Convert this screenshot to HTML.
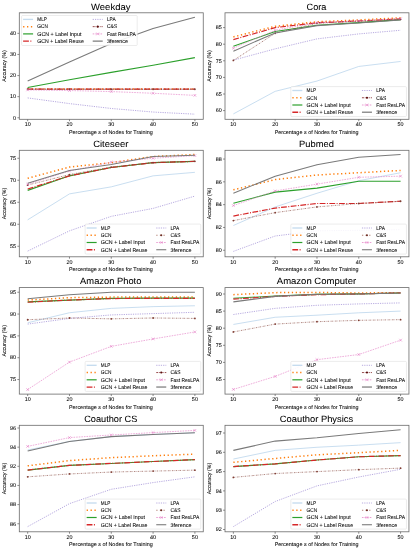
<!DOCTYPE html>
<html><head><meta charset="utf-8"><style>
html,body{margin:0;padding:0;background:#fff;}
svg{display:block;will-change:transform;}
text{text-rendering:geometricPrecision;font-family:"Liberation Sans",sans-serif;fill:#000;stroke:#000;stroke-width:0.06px;}
</style></head><body>
<svg width="412" height="550" viewBox="0 0 412 550">
<rect width="412" height="550" fill="#fff"/>
<clipPath id="c00"><rect x="19.3" y="12.8" width="183.95" height="106.5"/></clipPath>
<g clip-path="url(#c00)">
<path d="M27.66 89.27 L69.47 89.27 L111.27 89.27 L153.08 89.27 L194.89 89.27" stroke="#c6dcef" stroke-width="0.95" fill="none" stroke-linecap="butt" stroke-linejoin="round"/>
<path d="M27.66 88.95 L69.47 88.95 L111.27 88.95 L153.08 88.95 L194.89 88.95" stroke="#ff7f0e" stroke-width="1.5" fill="none" stroke-dasharray="1.3 2.6" stroke-linecap="butt" stroke-linejoin="round"/>
<path d="M27.66 87.58 L69.47 79.77 L111.27 72.39 L153.08 65.21 L194.89 57.62" stroke="#2ca02c" stroke-width="1.1" fill="none" stroke-linecap="butt" stroke-linejoin="round"/>
<path d="M27.66 89.05 L69.47 89.05 L111.27 89.05 L153.08 89.05 L194.89 89.05" stroke="#d62728" stroke-width="1.2" fill="none" stroke-dasharray="5.8 1.45 1.0 1.45" stroke-linecap="butt" stroke-linejoin="round"/>
<path d="M27.66 97.92 L69.47 103.61 L111.27 108.47 L153.08 112.05 L194.89 114.16" stroke="#9a86d2" stroke-width="0.7" fill="none" stroke-dasharray="1.2 1.1" stroke-linecap="butt" stroke-linejoin="round"/>
<path d="M27.66 89.27 L69.47 89.27 L111.27 89.27 L153.08 89.27 L194.89 89.27" stroke="#7f3c32" stroke-width="0.6" fill="none" stroke-dasharray="1.5 0.9 0.5 0.9" stroke-linecap="butt" stroke-linejoin="round"/>
<circle cx="27.66" cy="89.27" r="0.9" fill="#7f3c32"/>
<circle cx="69.47" cy="89.27" r="0.9" fill="#7f3c32"/>
<circle cx="111.27" cy="89.27" r="0.9" fill="#7f3c32"/>
<circle cx="153.08" cy="89.27" r="0.9" fill="#7f3c32"/>
<circle cx="194.89" cy="89.27" r="0.9" fill="#7f3c32"/>
<path d="M27.66 89.9 L69.47 90.53 L111.27 91.59 L153.08 93.27 L194.89 95.38" stroke="#e377c2" stroke-width="0.6" fill="none" stroke-dasharray="1.6 1.0" stroke-linecap="butt" stroke-linejoin="round"/>
<path d="M26.31 88.55L29.01 91.25M26.31 91.25L29.01 88.55" stroke="#e377c2" stroke-width="0.55" fill="none"/>
<path d="M68.12 89.18L70.82 91.88M68.12 91.88L70.82 89.18" stroke="#e377c2" stroke-width="0.55" fill="none"/>
<path d="M109.92 90.24L112.62 92.94M109.92 92.94L112.62 90.24" stroke="#e377c2" stroke-width="0.55" fill="none"/>
<path d="M151.73 91.92L154.43 94.62M151.73 94.62L154.43 91.92" stroke="#e377c2" stroke-width="0.55" fill="none"/>
<path d="M193.54 94.03L196.24 96.73M193.54 96.73L196.24 94.03" stroke="#e377c2" stroke-width="0.55" fill="none"/>
<path d="M27.66 81.04 L69.47 62.05 L111.27 43.48 L153.08 28.5 L194.89 17.31" stroke="#7a7a7a" stroke-width="1.05" fill="none" stroke-linecap="butt" stroke-linejoin="round"/>
</g>
<rect x="21.6" y="15.5" width="115.6" height="30.0" rx="1" fill="#fff" fill-opacity="0.88" stroke="#d8d8d8" stroke-width="0.5"/>
<path d="M23.1 19.4 L33.1 19.4" stroke="#c6dcef" stroke-width="1.35" fill="none" stroke-linecap="butt" stroke-linejoin="round"/>
<text x="37.3" y="21.15" font-size="5.5" textLength="9.61" lengthAdjust="spacingAndGlyphs">MLP</text>
<path d="M23.1 26.65 L33.1 26.65" stroke="#ff7f0e" stroke-width="1.5" fill="none" stroke-dasharray="1.3 2.6" stroke-linecap="butt" stroke-linejoin="round"/>
<text x="37.3" y="28.4" font-size="5.5" textLength="10.55" lengthAdjust="spacingAndGlyphs">GCN</text>
<path d="M23.1 33.9 L33.1 33.9" stroke="#2ca02c" stroke-width="1.2" fill="none" stroke-linecap="butt" stroke-linejoin="round"/>
<text x="37.3" y="35.65" font-size="5.5" textLength="44.18" lengthAdjust="spacingAndGlyphs">GCN + Label Input</text>
<path d="M23.1 41.15 L32.6 41.15" stroke="#d62728" stroke-width="1.3" fill="none" stroke-dasharray="5.8 1.45 1.0 1.45" stroke-linecap="butt" stroke-linejoin="round"/>
<text x="37.3" y="42.9" font-size="5.5" textLength="46.51" lengthAdjust="spacingAndGlyphs">GCN + Label Reuse</text>
<path d="M92.7 19.4 L102.7 19.4" stroke="#9a86d2" stroke-width="0.7" fill="none" stroke-dasharray="1.2 1.1" stroke-linecap="butt" stroke-linejoin="round"/>
<text x="106.9" y="21.15" font-size="5.5" textLength="8.76" lengthAdjust="spacingAndGlyphs">LPA</text>
<path d="M92.7 26.65 L102.7 26.65" stroke="#7e2020" stroke-width="0.8" fill="none" stroke-dasharray="2.0 0.8 0.8 0.8" stroke-linecap="butt" stroke-linejoin="round"/>
<circle cx="97.7" cy="26.65" r="1.05" fill="#5a0c0c"/>
<text x="106.9" y="28.4" font-size="5.5" textLength="10.04" lengthAdjust="spacingAndGlyphs">C&amp;S</text>
<path d="M92.7 33.9 L102.7 33.9" stroke="#e377c2" stroke-width="0.7" fill="none" stroke-dasharray="1.6 1.0" stroke-linecap="butt" stroke-linejoin="round"/>
<path d="M96.35 32.55L99.05 35.25M96.35 35.25L99.05 32.55" stroke="#e377c2" stroke-width="0.55" fill="none"/>
<text x="106.9" y="35.65" font-size="5.5" textLength="28.95" lengthAdjust="spacingAndGlyphs">Fast ResLPA</text>
<path d="M92.7 41.15 L102.7 41.15" stroke="#929292" stroke-width="1.5" fill="none" stroke-linecap="butt" stroke-linejoin="round"/>
<text x="106.9" y="42.9" font-size="5.5" textLength="21.03" lengthAdjust="spacingAndGlyphs">3ference</text>
<rect x="19.3" y="12.8" width="183.95" height="106.5" fill="none" stroke="#6a6a6a" stroke-width="0.8"/>
<line x1="27.66" y1="119.3" x2="27.66" y2="121.2" stroke="#6a6a6a" stroke-width="0.8"/>
<text x="27.66" y="126.15" font-size="5.5" text-anchor="middle" textLength="6.04" lengthAdjust="spacingAndGlyphs">10</text>
<line x1="69.47" y1="119.3" x2="69.47" y2="121.2" stroke="#6a6a6a" stroke-width="0.8"/>
<text x="69.47" y="126.15" font-size="5.5" text-anchor="middle" textLength="6.04" lengthAdjust="spacingAndGlyphs">20</text>
<line x1="111.27" y1="119.3" x2="111.27" y2="121.2" stroke="#6a6a6a" stroke-width="0.8"/>
<text x="111.27" y="126.15" font-size="5.5" text-anchor="middle" textLength="6.04" lengthAdjust="spacingAndGlyphs">30</text>
<line x1="153.08" y1="119.3" x2="153.08" y2="121.2" stroke="#6a6a6a" stroke-width="0.8"/>
<text x="153.08" y="126.15" font-size="5.5" text-anchor="middle" textLength="6.04" lengthAdjust="spacingAndGlyphs">40</text>
<line x1="194.89" y1="119.3" x2="194.89" y2="121.2" stroke="#6a6a6a" stroke-width="0.8"/>
<text x="194.89" y="126.15" font-size="5.5" text-anchor="middle" textLength="6.04" lengthAdjust="spacingAndGlyphs">50</text>
<line x1="17.4" y1="117.75" x2="19.3" y2="117.75" stroke="#6a6a6a" stroke-width="0.8"/>
<text x="16" y="119.5" font-size="5.5" text-anchor="end" textLength="3.02" lengthAdjust="spacingAndGlyphs">0</text>
<line x1="17.4" y1="96.65" x2="19.3" y2="96.65" stroke="#6a6a6a" stroke-width="0.8"/>
<text x="16" y="98.4" font-size="5.5" text-anchor="end" textLength="6.04" lengthAdjust="spacingAndGlyphs">10</text>
<line x1="17.4" y1="75.55" x2="19.3" y2="75.55" stroke="#6a6a6a" stroke-width="0.8"/>
<text x="16" y="77.3" font-size="5.5" text-anchor="end" textLength="6.04" lengthAdjust="spacingAndGlyphs">20</text>
<line x1="17.4" y1="54.45" x2="19.3" y2="54.45" stroke="#6a6a6a" stroke-width="0.8"/>
<text x="16" y="56.2" font-size="5.5" text-anchor="end" textLength="6.04" lengthAdjust="spacingAndGlyphs">30</text>
<line x1="17.4" y1="33.35" x2="19.3" y2="33.35" stroke="#6a6a6a" stroke-width="0.8"/>
<text x="16" y="35.1" font-size="5.5" text-anchor="end" textLength="6.04" lengthAdjust="spacingAndGlyphs">40</text>
<text x="110.87" y="133.7" font-size="5.5" text-anchor="middle" textLength="83.8" lengthAdjust="spacingAndGlyphs">Percentage <tspan font-style="italic">s</tspan> of Nodes for Training</text>
<text transform="translate(5.5 66.05) rotate(-90)" x="0" y="0" font-size="5.5" text-anchor="middle" textLength="31.5" lengthAdjust="spacingAndGlyphs">Accuracy (%)</text>
<text x="110.77" y="9.5" font-size="9.1" stroke="#000" stroke-width="0.15" text-anchor="middle" textLength="39.42" lengthAdjust="spacingAndGlyphs">Weekday</text>
<clipPath id="c10"><rect x="225" y="12.8" width="183.95" height="106.5"/></clipPath>
<g clip-path="url(#c10)">
<path d="M233.36 113.92 L275.17 91.34 L316.98 81.05 L358.78 66.44 L400.59 61.46" stroke="#c6dcef" stroke-width="0.95" fill="none" stroke-linecap="butt" stroke-linejoin="round"/>
<path d="M233.36 36.9 L275.17 26.27 L316.98 21.79 L358.78 19.96 L400.59 17.81" stroke="#ff7f0e" stroke-width="1.5" fill="none" stroke-dasharray="1.3 2.6" stroke-linecap="butt" stroke-linejoin="round"/>
<path d="M233.36 46.19 L275.17 31.58 L316.98 25.28 L358.78 22.62 L400.59 19.63" stroke="#2ca02c" stroke-width="1.1" fill="none" stroke-linecap="butt" stroke-linejoin="round"/>
<path d="M233.36 39.55 L275.17 27.6 L316.98 22.79 L358.78 20.96 L400.59 18.8" stroke="#d62728" stroke-width="1.2" fill="none" stroke-dasharray="5.8 1.45 1.0 1.45" stroke-linecap="butt" stroke-linejoin="round"/>
<path d="M233.36 60.14 L275.17 48.85 L316.98 38.89 L358.78 33.91 L400.59 30.26" stroke="#9a86d2" stroke-width="0.7" fill="none" stroke-dasharray="1.2 1.1" stroke-linecap="butt" stroke-linejoin="round"/>
<path d="M233.36 60.47 L275.17 33.24 L316.98 23.28 L358.78 21.29 L400.59 19.3" stroke="#7f3c32" stroke-width="0.6" fill="none" stroke-dasharray="1.5 0.9 0.5 0.9" stroke-linecap="butt" stroke-linejoin="round"/>
<circle cx="233.36" cy="60.47" r="0.9" fill="#7f3c32"/>
<circle cx="275.17" cy="33.24" r="0.9" fill="#7f3c32"/>
<circle cx="316.98" cy="23.28" r="0.9" fill="#7f3c32"/>
<circle cx="358.78" cy="21.29" r="0.9" fill="#7f3c32"/>
<circle cx="400.59" cy="19.3" r="0.9" fill="#7f3c32"/>
<path d="M233.36 48.18 L275.17 30.26 L316.98 22.62 L358.78 20.96 L400.59 18.64" stroke="#e377c2" stroke-width="0.6" fill="none" stroke-dasharray="1.6 1.0" stroke-linecap="butt" stroke-linejoin="round"/>
<path d="M232.01 46.83L234.71 49.53M232.01 49.53L234.71 46.83" stroke="#e377c2" stroke-width="0.55" fill="none"/>
<path d="M273.82 28.91L276.52 31.61M273.82 31.61L276.52 28.91" stroke="#e377c2" stroke-width="0.55" fill="none"/>
<path d="M315.62 21.27L318.33 23.97M315.62 23.97L318.33 21.27" stroke="#e377c2" stroke-width="0.55" fill="none"/>
<path d="M357.43 19.61L360.13 22.31M357.43 22.31L360.13 19.61" stroke="#e377c2" stroke-width="0.55" fill="none"/>
<path d="M399.24 17.29L401.94 19.99M399.24 19.99L401.94 17.29" stroke="#e377c2" stroke-width="0.55" fill="none"/>
<path d="M233.36 51.17 L275.17 32.91 L316.98 25.61 L358.78 22.95 L400.59 19.96" stroke="#7a7a7a" stroke-width="1.05" fill="none" stroke-linecap="butt" stroke-linejoin="round"/>
</g>
<rect x="290.85" y="86.6" width="115.6" height="30.0" rx="1" fill="#fff" fill-opacity="0.88" stroke="#d8d8d8" stroke-width="0.5"/>
<path d="M292.35 90.5 L302.35 90.5" stroke="#c6dcef" stroke-width="1.35" fill="none" stroke-linecap="butt" stroke-linejoin="round"/>
<text x="306.55" y="92.25" font-size="5.5" textLength="9.61" lengthAdjust="spacingAndGlyphs">MLP</text>
<path d="M292.35 97.75 L302.35 97.75" stroke="#ff7f0e" stroke-width="1.5" fill="none" stroke-dasharray="1.3 2.6" stroke-linecap="butt" stroke-linejoin="round"/>
<text x="306.55" y="99.5" font-size="5.5" textLength="10.55" lengthAdjust="spacingAndGlyphs">GCN</text>
<path d="M292.35 105 L302.35 105" stroke="#2ca02c" stroke-width="1.2" fill="none" stroke-linecap="butt" stroke-linejoin="round"/>
<text x="306.55" y="106.75" font-size="5.5" textLength="44.18" lengthAdjust="spacingAndGlyphs">GCN + Label Input</text>
<path d="M292.35 112.25 L301.85 112.25" stroke="#d62728" stroke-width="1.3" fill="none" stroke-dasharray="5.8 1.45 1.0 1.45" stroke-linecap="butt" stroke-linejoin="round"/>
<text x="306.55" y="114" font-size="5.5" textLength="46.51" lengthAdjust="spacingAndGlyphs">GCN + Label Reuse</text>
<path d="M361.95 90.5 L371.95 90.5" stroke="#9a86d2" stroke-width="0.7" fill="none" stroke-dasharray="1.2 1.1" stroke-linecap="butt" stroke-linejoin="round"/>
<text x="376.15" y="92.25" font-size="5.5" textLength="8.76" lengthAdjust="spacingAndGlyphs">LPA</text>
<path d="M361.95 97.75 L371.95 97.75" stroke="#7e2020" stroke-width="0.8" fill="none" stroke-dasharray="2.0 0.8 0.8 0.8" stroke-linecap="butt" stroke-linejoin="round"/>
<circle cx="366.95" cy="97.75" r="1.05" fill="#5a0c0c"/>
<text x="376.15" y="99.5" font-size="5.5" textLength="10.04" lengthAdjust="spacingAndGlyphs">C&amp;S</text>
<path d="M361.95 105 L371.95 105" stroke="#e377c2" stroke-width="0.7" fill="none" stroke-dasharray="1.6 1.0" stroke-linecap="butt" stroke-linejoin="round"/>
<path d="M365.6 103.65L368.3 106.35M365.6 106.35L368.3 103.65" stroke="#e377c2" stroke-width="0.55" fill="none"/>
<text x="376.15" y="106.75" font-size="5.5" textLength="28.95" lengthAdjust="spacingAndGlyphs">Fast ResLPA</text>
<path d="M361.95 112.25 L371.95 112.25" stroke="#929292" stroke-width="1.5" fill="none" stroke-linecap="butt" stroke-linejoin="round"/>
<text x="376.15" y="114" font-size="5.5" textLength="21.03" lengthAdjust="spacingAndGlyphs">3ference</text>
<rect x="225" y="12.8" width="183.95" height="106.5" fill="none" stroke="#6a6a6a" stroke-width="0.8"/>
<line x1="233.36" y1="119.3" x2="233.36" y2="121.2" stroke="#6a6a6a" stroke-width="0.8"/>
<text x="233.36" y="126.15" font-size="5.5" text-anchor="middle" textLength="6.04" lengthAdjust="spacingAndGlyphs">10</text>
<line x1="275.17" y1="119.3" x2="275.17" y2="121.2" stroke="#6a6a6a" stroke-width="0.8"/>
<text x="275.17" y="126.15" font-size="5.5" text-anchor="middle" textLength="6.04" lengthAdjust="spacingAndGlyphs">20</text>
<line x1="316.98" y1="119.3" x2="316.98" y2="121.2" stroke="#6a6a6a" stroke-width="0.8"/>
<text x="316.98" y="126.15" font-size="5.5" text-anchor="middle" textLength="6.04" lengthAdjust="spacingAndGlyphs">30</text>
<line x1="358.78" y1="119.3" x2="358.78" y2="121.2" stroke="#6a6a6a" stroke-width="0.8"/>
<text x="358.78" y="126.15" font-size="5.5" text-anchor="middle" textLength="6.04" lengthAdjust="spacingAndGlyphs">40</text>
<line x1="400.59" y1="119.3" x2="400.59" y2="121.2" stroke="#6a6a6a" stroke-width="0.8"/>
<text x="400.59" y="126.15" font-size="5.5" text-anchor="middle" textLength="6.04" lengthAdjust="spacingAndGlyphs">50</text>
<line x1="223.1" y1="110.6" x2="225" y2="110.6" stroke="#6a6a6a" stroke-width="0.8"/>
<text x="221.7" y="112.35" font-size="5.5" text-anchor="end" textLength="6.04" lengthAdjust="spacingAndGlyphs">60</text>
<line x1="223.1" y1="94" x2="225" y2="94" stroke="#6a6a6a" stroke-width="0.8"/>
<text x="221.7" y="95.75" font-size="5.5" text-anchor="end" textLength="6.04" lengthAdjust="spacingAndGlyphs">65</text>
<line x1="223.1" y1="77.4" x2="225" y2="77.4" stroke="#6a6a6a" stroke-width="0.8"/>
<text x="221.7" y="79.15" font-size="5.5" text-anchor="end" textLength="6.04" lengthAdjust="spacingAndGlyphs">70</text>
<line x1="223.1" y1="60.8" x2="225" y2="60.8" stroke="#6a6a6a" stroke-width="0.8"/>
<text x="221.7" y="62.55" font-size="5.5" text-anchor="end" textLength="6.04" lengthAdjust="spacingAndGlyphs">75</text>
<line x1="223.1" y1="44.2" x2="225" y2="44.2" stroke="#6a6a6a" stroke-width="0.8"/>
<text x="221.7" y="45.95" font-size="5.5" text-anchor="end" textLength="6.04" lengthAdjust="spacingAndGlyphs">80</text>
<line x1="223.1" y1="27.6" x2="225" y2="27.6" stroke="#6a6a6a" stroke-width="0.8"/>
<text x="221.7" y="29.35" font-size="5.5" text-anchor="end" textLength="6.04" lengthAdjust="spacingAndGlyphs">85</text>
<text x="316.58" y="133.7" font-size="5.5" text-anchor="middle" textLength="83.8" lengthAdjust="spacingAndGlyphs">Percentage <tspan font-style="italic">s</tspan> of Nodes for Training</text>
<text transform="translate(211.2 66.05) rotate(-90)" x="0" y="0" font-size="5.5" text-anchor="middle" textLength="31.5" lengthAdjust="spacingAndGlyphs">Accuracy (%)</text>
<text x="316.48" y="9.5" font-size="9.1" stroke="#000" stroke-width="0.15" text-anchor="middle" textLength="19.84" lengthAdjust="spacingAndGlyphs">Cora</text>
<clipPath id="c01"><rect x="19.3" y="150.3" width="183.95" height="106.5"/></clipPath>
<g clip-path="url(#c01)">
<path d="M27.66 219.85 L69.47 193.89 L111.27 186.85 L153.08 175.85 L194.89 172.33" stroke="#c6dcef" stroke-width="0.95" fill="none" stroke-linecap="butt" stroke-linejoin="round"/>
<path d="M27.66 178.27 L69.47 167.05 L111.27 162.65 L153.08 156.49 L194.89 154.51" stroke="#ff7f0e" stroke-width="1.5" fill="none" stroke-dasharray="1.3 2.6" stroke-linecap="butt" stroke-linejoin="round"/>
<path d="M27.66 190.37 L69.47 175.85 L111.27 167.49 L153.08 162.65 L194.89 161.33" stroke="#2ca02c" stroke-width="1.1" fill="none" stroke-linecap="butt" stroke-linejoin="round"/>
<path d="M27.66 189.05 L69.47 175.85 L111.27 167.49 L153.08 162.65 L194.89 161.33" stroke="#d62728" stroke-width="1.2" fill="none" stroke-dasharray="5.8 1.45 1.0 1.45" stroke-linecap="butt" stroke-linejoin="round"/>
<path d="M27.66 251.09 L69.47 230.85 L111.27 216.33 L153.08 208.41 L194.89 196.09" stroke="#9a86d2" stroke-width="0.7" fill="none" stroke-dasharray="1.2 1.1" stroke-linecap="butt" stroke-linejoin="round"/>
<path d="M27.66 185.09 L69.47 174.53 L111.27 167.05 L153.08 162.65 L194.89 161.33" stroke="#7f3c32" stroke-width="0.6" fill="none" stroke-dasharray="1.5 0.9 0.5 0.9" stroke-linecap="butt" stroke-linejoin="round"/>
<circle cx="27.66" cy="185.09" r="0.9" fill="#7f3c32"/>
<circle cx="69.47" cy="174.53" r="0.9" fill="#7f3c32"/>
<circle cx="111.27" cy="167.05" r="0.9" fill="#7f3c32"/>
<circle cx="153.08" cy="162.65" r="0.9" fill="#7f3c32"/>
<circle cx="194.89" cy="161.33" r="0.9" fill="#7f3c32"/>
<path d="M27.66 184.21 L69.47 171.01 L111.27 162.21 L153.08 158.25 L194.89 155.61" stroke="#e377c2" stroke-width="0.6" fill="none" stroke-dasharray="1.6 1.0" stroke-linecap="butt" stroke-linejoin="round"/>
<path d="M26.31 182.86L29.01 185.56M26.31 185.56L29.01 182.86" stroke="#e377c2" stroke-width="0.55" fill="none"/>
<path d="M68.12 169.66L70.82 172.36M68.12 172.36L70.82 169.66" stroke="#e377c2" stroke-width="0.55" fill="none"/>
<path d="M109.92 160.86L112.62 163.56M109.92 163.56L112.62 160.86" stroke="#e377c2" stroke-width="0.55" fill="none"/>
<path d="M151.73 156.9L154.43 159.6M151.73 159.6L154.43 156.9" stroke="#e377c2" stroke-width="0.55" fill="none"/>
<path d="M193.54 154.26L196.24 156.96M193.54 156.96L196.24 154.26" stroke="#e377c2" stroke-width="0.55" fill="none"/>
<path d="M27.66 183.33 L69.47 170.57 L111.27 164.41 L153.08 156.49 L194.89 155.17" stroke="#7a7a7a" stroke-width="1.05" fill="none" stroke-linecap="butt" stroke-linejoin="round"/>
</g>
<rect x="85.15" y="224.1" width="115.6" height="30.0" rx="1" fill="#fff" fill-opacity="0.88" stroke="#d8d8d8" stroke-width="0.5"/>
<path d="M86.65 228 L96.65 228" stroke="#c6dcef" stroke-width="1.35" fill="none" stroke-linecap="butt" stroke-linejoin="round"/>
<text x="100.85" y="229.75" font-size="5.5" textLength="9.61" lengthAdjust="spacingAndGlyphs">MLP</text>
<path d="M86.65 235.25 L96.65 235.25" stroke="#ff7f0e" stroke-width="1.5" fill="none" stroke-dasharray="1.3 2.6" stroke-linecap="butt" stroke-linejoin="round"/>
<text x="100.85" y="237" font-size="5.5" textLength="10.55" lengthAdjust="spacingAndGlyphs">GCN</text>
<path d="M86.65 242.5 L96.65 242.5" stroke="#2ca02c" stroke-width="1.2" fill="none" stroke-linecap="butt" stroke-linejoin="round"/>
<text x="100.85" y="244.25" font-size="5.5" textLength="44.18" lengthAdjust="spacingAndGlyphs">GCN + Label Input</text>
<path d="M86.65 249.75 L96.15 249.75" stroke="#d62728" stroke-width="1.3" fill="none" stroke-dasharray="5.8 1.45 1.0 1.45" stroke-linecap="butt" stroke-linejoin="round"/>
<text x="100.85" y="251.5" font-size="5.5" textLength="46.51" lengthAdjust="spacingAndGlyphs">GCN + Label Reuse</text>
<path d="M156.25 228 L166.25 228" stroke="#9a86d2" stroke-width="0.7" fill="none" stroke-dasharray="1.2 1.1" stroke-linecap="butt" stroke-linejoin="round"/>
<text x="170.45" y="229.75" font-size="5.5" textLength="8.76" lengthAdjust="spacingAndGlyphs">LPA</text>
<path d="M156.25 235.25 L166.25 235.25" stroke="#b48478" stroke-width="1.2" fill="none" stroke-dasharray="1.3 2.3" stroke-linecap="butt" stroke-linejoin="round"/>
<circle cx="161.25" cy="235.25" r="1.05" fill="#6e2e24"/>
<text x="170.45" y="237" font-size="5.5" textLength="10.04" lengthAdjust="spacingAndGlyphs">C&amp;S</text>
<path d="M156.25 242.5 L166.25 242.5" stroke="#e377c2" stroke-width="0.7" fill="none" stroke-dasharray="1.6 1.0" stroke-linecap="butt" stroke-linejoin="round"/>
<path d="M159.9 241.15L162.6 243.85M159.9 243.85L162.6 241.15" stroke="#e377c2" stroke-width="0.55" fill="none"/>
<text x="170.45" y="244.25" font-size="5.5" textLength="28.95" lengthAdjust="spacingAndGlyphs">Fast ResLPA</text>
<path d="M156.25 249.75 L166.25 249.75" stroke="#4a4a4a" stroke-width="0.8" fill="none" stroke-linecap="butt" stroke-linejoin="round"/>
<text x="170.45" y="251.5" font-size="5.5" textLength="21.03" lengthAdjust="spacingAndGlyphs">3ference</text>
<rect x="19.3" y="150.3" width="183.95" height="106.5" fill="none" stroke="#6a6a6a" stroke-width="0.8"/>
<line x1="27.66" y1="256.8" x2="27.66" y2="258.7" stroke="#6a6a6a" stroke-width="0.8"/>
<text x="27.66" y="263.65" font-size="5.5" text-anchor="middle" textLength="6.04" lengthAdjust="spacingAndGlyphs">10</text>
<line x1="69.47" y1="256.8" x2="69.47" y2="258.7" stroke="#6a6a6a" stroke-width="0.8"/>
<text x="69.47" y="263.65" font-size="5.5" text-anchor="middle" textLength="6.04" lengthAdjust="spacingAndGlyphs">20</text>
<line x1="111.27" y1="256.8" x2="111.27" y2="258.7" stroke="#6a6a6a" stroke-width="0.8"/>
<text x="111.27" y="263.65" font-size="5.5" text-anchor="middle" textLength="6.04" lengthAdjust="spacingAndGlyphs">30</text>
<line x1="153.08" y1="256.8" x2="153.08" y2="258.7" stroke="#6a6a6a" stroke-width="0.8"/>
<text x="153.08" y="263.65" font-size="5.5" text-anchor="middle" textLength="6.04" lengthAdjust="spacingAndGlyphs">40</text>
<line x1="194.89" y1="256.8" x2="194.89" y2="258.7" stroke="#6a6a6a" stroke-width="0.8"/>
<text x="194.89" y="263.65" font-size="5.5" text-anchor="middle" textLength="6.04" lengthAdjust="spacingAndGlyphs">50</text>
<line x1="17.4" y1="246.25" x2="19.3" y2="246.25" stroke="#6a6a6a" stroke-width="0.8"/>
<text x="16" y="248" font-size="5.5" text-anchor="end" textLength="6.04" lengthAdjust="spacingAndGlyphs">55</text>
<line x1="17.4" y1="224.25" x2="19.3" y2="224.25" stroke="#6a6a6a" stroke-width="0.8"/>
<text x="16" y="226" font-size="5.5" text-anchor="end" textLength="6.04" lengthAdjust="spacingAndGlyphs">60</text>
<line x1="17.4" y1="202.25" x2="19.3" y2="202.25" stroke="#6a6a6a" stroke-width="0.8"/>
<text x="16" y="204" font-size="5.5" text-anchor="end" textLength="6.04" lengthAdjust="spacingAndGlyphs">65</text>
<line x1="17.4" y1="180.25" x2="19.3" y2="180.25" stroke="#6a6a6a" stroke-width="0.8"/>
<text x="16" y="182" font-size="5.5" text-anchor="end" textLength="6.04" lengthAdjust="spacingAndGlyphs">70</text>
<line x1="17.4" y1="158.25" x2="19.3" y2="158.25" stroke="#6a6a6a" stroke-width="0.8"/>
<text x="16" y="160" font-size="5.5" text-anchor="end" textLength="6.04" lengthAdjust="spacingAndGlyphs">75</text>
<text x="110.87" y="271.2" font-size="5.5" text-anchor="middle" textLength="83.8" lengthAdjust="spacingAndGlyphs">Percentage <tspan font-style="italic">s</tspan> of Nodes for Training</text>
<text transform="translate(5.5 203.55) rotate(-90)" x="0" y="0" font-size="5.5" text-anchor="middle" textLength="31.5" lengthAdjust="spacingAndGlyphs">Accuracy (%)</text>
<text x="110.77" y="147" font-size="9.1" stroke="#000" stroke-width="0.15" text-anchor="middle" textLength="35.23" lengthAdjust="spacingAndGlyphs">Citeseer</text>
<clipPath id="c11"><rect x="225" y="150.3" width="183.95" height="106.5"/></clipPath>
<g clip-path="url(#c11)">
<path d="M233.36 225.51 L275.17 206.93 L316.98 193.25 L358.78 180.71 L400.59 172.73" stroke="#c6dcef" stroke-width="0.95" fill="none" stroke-linecap="butt" stroke-linejoin="round"/>
<path d="M233.36 189.83 L275.17 179.57 L316.98 175.01 L358.78 172.73 L400.59 170.45" stroke="#ff7f0e" stroke-width="1.5" fill="none" stroke-dasharray="1.3 2.6" stroke-linecap="butt" stroke-linejoin="round"/>
<path d="M233.36 203.28 L275.17 192.11 L316.98 188.12 L358.78 181.28 L400.59 181.28" stroke="#2ca02c" stroke-width="1.1" fill="none" stroke-linecap="butt" stroke-linejoin="round"/>
<path d="M233.36 216.05 L275.17 208.07 L316.98 203.51 L358.78 203.51 L400.59 201.23" stroke="#d62728" stroke-width="1.2" fill="none" stroke-dasharray="5.8 1.45 1.0 1.45" stroke-linecap="butt" stroke-linejoin="round"/>
<path d="M233.36 251.39 L275.17 236 L316.98 230.87 L358.78 230.3 L400.59 229.73" stroke="#9a86d2" stroke-width="0.7" fill="none" stroke-dasharray="1.2 1.1" stroke-linecap="butt" stroke-linejoin="round"/>
<path d="M233.36 220.61 L275.17 212.63 L316.98 206.93 L358.78 203.51 L400.59 201.23" stroke="#7f3c32" stroke-width="0.6" fill="none" stroke-dasharray="1.5 0.9 0.5 0.9" stroke-linecap="butt" stroke-linejoin="round"/>
<circle cx="233.36" cy="220.61" r="0.9" fill="#7f3c32"/>
<circle cx="275.17" cy="212.63" r="0.9" fill="#7f3c32"/>
<circle cx="316.98" cy="206.93" r="0.9" fill="#7f3c32"/>
<circle cx="358.78" cy="203.51" r="0.9" fill="#7f3c32"/>
<circle cx="400.59" cy="201.23" r="0.9" fill="#7f3c32"/>
<path d="M233.36 205.56 L275.17 190.97 L316.98 184.13 L358.78 177.29 L400.59 176.15" stroke="#e377c2" stroke-width="0.6" fill="none" stroke-dasharray="1.6 1.0" stroke-linecap="butt" stroke-linejoin="round"/>
<path d="M232.01 204.21L234.71 206.91M232.01 206.91L234.71 204.21" stroke="#e377c2" stroke-width="0.55" fill="none"/>
<path d="M273.82 189.62L276.52 192.32M273.82 192.32L276.52 189.62" stroke="#e377c2" stroke-width="0.55" fill="none"/>
<path d="M315.62 182.78L318.33 185.48M315.62 185.48L318.33 182.78" stroke="#e377c2" stroke-width="0.55" fill="none"/>
<path d="M357.43 175.94L360.13 178.64M357.43 178.64L360.13 175.94" stroke="#e377c2" stroke-width="0.55" fill="none"/>
<path d="M399.24 174.8L401.94 177.5M399.24 177.5L401.94 174.8" stroke="#e377c2" stroke-width="0.55" fill="none"/>
<path d="M233.36 193.25 L275.17 176.15 L316.98 164.75 L358.78 157.34 L400.59 154.49" stroke="#7a7a7a" stroke-width="1.05" fill="none" stroke-linecap="butt" stroke-linejoin="round"/>
</g>
<rect x="290.85" y="224.1" width="115.6" height="30.0" rx="1" fill="#fff" fill-opacity="0.88" stroke="#d8d8d8" stroke-width="0.5"/>
<path d="M292.35 228 L302.35 228" stroke="#c6dcef" stroke-width="1.35" fill="none" stroke-linecap="butt" stroke-linejoin="round"/>
<text x="306.55" y="229.75" font-size="5.5" textLength="9.61" lengthAdjust="spacingAndGlyphs">MLP</text>
<path d="M292.35 235.25 L302.35 235.25" stroke="#ff7f0e" stroke-width="1.5" fill="none" stroke-dasharray="1.3 2.6" stroke-linecap="butt" stroke-linejoin="round"/>
<text x="306.55" y="237" font-size="5.5" textLength="10.55" lengthAdjust="spacingAndGlyphs">GCN</text>
<path d="M292.35 242.5 L302.35 242.5" stroke="#2ca02c" stroke-width="1.2" fill="none" stroke-linecap="butt" stroke-linejoin="round"/>
<text x="306.55" y="244.25" font-size="5.5" textLength="44.18" lengthAdjust="spacingAndGlyphs">GCN + Label Input</text>
<path d="M292.35 249.75 L301.85 249.75" stroke="#d62728" stroke-width="1.3" fill="none" stroke-dasharray="5.8 1.45 1.0 1.45" stroke-linecap="butt" stroke-linejoin="round"/>
<text x="306.55" y="251.5" font-size="5.5" textLength="46.51" lengthAdjust="spacingAndGlyphs">GCN + Label Reuse</text>
<path d="M361.95 228 L371.95 228" stroke="#9a86d2" stroke-width="0.7" fill="none" stroke-dasharray="1.2 1.1" stroke-linecap="butt" stroke-linejoin="round"/>
<text x="376.15" y="229.75" font-size="5.5" textLength="8.76" lengthAdjust="spacingAndGlyphs">LPA</text>
<path d="M361.95 235.25 L371.95 235.25" stroke="#b48478" stroke-width="1.2" fill="none" stroke-dasharray="1.3 2.3" stroke-linecap="butt" stroke-linejoin="round"/>
<circle cx="366.95" cy="235.25" r="1.05" fill="#6e2e24"/>
<text x="376.15" y="237" font-size="5.5" textLength="10.04" lengthAdjust="spacingAndGlyphs">C&amp;S</text>
<path d="M361.95 242.5 L371.95 242.5" stroke="#e377c2" stroke-width="0.7" fill="none" stroke-dasharray="1.6 1.0" stroke-linecap="butt" stroke-linejoin="round"/>
<path d="M365.6 241.15L368.3 243.85M365.6 243.85L368.3 241.15" stroke="#e377c2" stroke-width="0.55" fill="none"/>
<text x="376.15" y="244.25" font-size="5.5" textLength="28.95" lengthAdjust="spacingAndGlyphs">Fast ResLPA</text>
<path d="M361.95 249.75 L371.95 249.75" stroke="#4a4a4a" stroke-width="0.8" fill="none" stroke-linecap="butt" stroke-linejoin="round"/>
<text x="376.15" y="251.5" font-size="5.5" textLength="21.03" lengthAdjust="spacingAndGlyphs">3ference</text>
<rect x="225" y="150.3" width="183.95" height="106.5" fill="none" stroke="#6a6a6a" stroke-width="0.8"/>
<line x1="233.36" y1="256.8" x2="233.36" y2="258.7" stroke="#6a6a6a" stroke-width="0.8"/>
<text x="233.36" y="263.65" font-size="5.5" text-anchor="middle" textLength="6.04" lengthAdjust="spacingAndGlyphs">10</text>
<line x1="275.17" y1="256.8" x2="275.17" y2="258.7" stroke="#6a6a6a" stroke-width="0.8"/>
<text x="275.17" y="263.65" font-size="5.5" text-anchor="middle" textLength="6.04" lengthAdjust="spacingAndGlyphs">20</text>
<line x1="316.98" y1="256.8" x2="316.98" y2="258.7" stroke="#6a6a6a" stroke-width="0.8"/>
<text x="316.98" y="263.65" font-size="5.5" text-anchor="middle" textLength="6.04" lengthAdjust="spacingAndGlyphs">30</text>
<line x1="358.78" y1="256.8" x2="358.78" y2="258.7" stroke="#6a6a6a" stroke-width="0.8"/>
<text x="358.78" y="263.65" font-size="5.5" text-anchor="middle" textLength="6.04" lengthAdjust="spacingAndGlyphs">40</text>
<line x1="400.59" y1="256.8" x2="400.59" y2="258.7" stroke="#6a6a6a" stroke-width="0.8"/>
<text x="400.59" y="263.65" font-size="5.5" text-anchor="middle" textLength="6.04" lengthAdjust="spacingAndGlyphs">50</text>
<line x1="223.1" y1="250.25" x2="225" y2="250.25" stroke="#6a6a6a" stroke-width="0.8"/>
<text x="221.7" y="252" font-size="5.5" text-anchor="end" textLength="6.04" lengthAdjust="spacingAndGlyphs">80</text>
<line x1="223.1" y1="227.45" x2="225" y2="227.45" stroke="#6a6a6a" stroke-width="0.8"/>
<text x="221.7" y="229.2" font-size="5.5" text-anchor="end" textLength="6.04" lengthAdjust="spacingAndGlyphs">82</text>
<line x1="223.1" y1="204.65" x2="225" y2="204.65" stroke="#6a6a6a" stroke-width="0.8"/>
<text x="221.7" y="206.4" font-size="5.5" text-anchor="end" textLength="6.04" lengthAdjust="spacingAndGlyphs">84</text>
<line x1="223.1" y1="181.85" x2="225" y2="181.85" stroke="#6a6a6a" stroke-width="0.8"/>
<text x="221.7" y="183.6" font-size="5.5" text-anchor="end" textLength="6.04" lengthAdjust="spacingAndGlyphs">86</text>
<line x1="223.1" y1="159.05" x2="225" y2="159.05" stroke="#6a6a6a" stroke-width="0.8"/>
<text x="221.7" y="160.8" font-size="5.5" text-anchor="end" textLength="6.04" lengthAdjust="spacingAndGlyphs">88</text>
<text x="316.58" y="271.2" font-size="5.5" text-anchor="middle" textLength="83.8" lengthAdjust="spacingAndGlyphs">Percentage <tspan font-style="italic">s</tspan> of Nodes for Training</text>
<text transform="translate(211.2 203.55) rotate(-90)" x="0" y="0" font-size="5.5" text-anchor="middle" textLength="31.5" lengthAdjust="spacingAndGlyphs">Accuracy (%)</text>
<text x="316.48" y="147" font-size="9.1" stroke="#000" stroke-width="0.15" text-anchor="middle" textLength="34.82" lengthAdjust="spacingAndGlyphs">Pubmed</text>
<clipPath id="c02"><rect x="19.3" y="287.6" width="183.95" height="106.5"/></clipPath>
<g clip-path="url(#c02)">
<path d="M27.66 322.78 L69.47 312.74 L111.27 308.37 L153.08 306.63 L194.89 305.75" stroke="#c6dcef" stroke-width="0.95" fill="none" stroke-linecap="butt" stroke-linejoin="round"/>
<path d="M27.66 300.08 L69.47 297.68 L111.27 297.11 L153.08 297.11 L194.89 297.11" stroke="#ff7f0e" stroke-width="1.5" fill="none" stroke-dasharray="1.3 2.6" stroke-linecap="butt" stroke-linejoin="round"/>
<path d="M27.66 301.83 L69.47 300.08 L111.27 298.33 L153.08 298.11 L194.89 298.11" stroke="#2ca02c" stroke-width="1.1" fill="none" stroke-linecap="butt" stroke-linejoin="round"/>
<path d="M27.66 302.26 L69.47 300.08 L111.27 298.55 L153.08 298.33 L194.89 298.33" stroke="#d62728" stroke-width="1.2" fill="none" stroke-dasharray="5.8 1.45 1.0 1.45" stroke-linecap="butt" stroke-linejoin="round"/>
<path d="M27.66 324.09 L69.47 318.42 L111.27 314.92 L153.08 313.61 L194.89 312.3" stroke="#9a86d2" stroke-width="0.7" fill="none" stroke-dasharray="1.2 1.1" stroke-linecap="butt" stroke-linejoin="round"/>
<path d="M27.66 319.73 L69.47 317.98 L111.27 318.85 L153.08 317.98 L194.89 318.42" stroke="#7f3c32" stroke-width="0.6" fill="none" stroke-dasharray="1.5 0.9 0.5 0.9" stroke-linecap="butt" stroke-linejoin="round"/>
<circle cx="27.66" cy="319.73" r="0.9" fill="#7f3c32"/>
<circle cx="69.47" cy="317.98" r="0.9" fill="#7f3c32"/>
<circle cx="111.27" cy="318.85" r="0.9" fill="#7f3c32"/>
<circle cx="153.08" cy="317.98" r="0.9" fill="#7f3c32"/>
<circle cx="194.89" cy="318.42" r="0.9" fill="#7f3c32"/>
<path d="M27.66 389.58 L69.47 362.08 L111.27 346.36 L153.08 338.94 L194.89 331.95" stroke="#e377c2" stroke-width="0.6" fill="none" stroke-dasharray="1.6 1.0" stroke-linecap="butt" stroke-linejoin="round"/>
<path d="M26.31 388.23L29.01 390.93M26.31 390.93L29.01 388.23" stroke="#e377c2" stroke-width="0.55" fill="none"/>
<path d="M68.12 360.73L70.82 363.43M68.12 363.43L70.82 360.73" stroke="#e377c2" stroke-width="0.55" fill="none"/>
<path d="M109.92 345.01L112.62 347.71M109.92 347.71L112.62 345.01" stroke="#e377c2" stroke-width="0.55" fill="none"/>
<path d="M151.73 337.59L154.43 340.29M151.73 340.29L154.43 337.59" stroke="#e377c2" stroke-width="0.55" fill="none"/>
<path d="M193.54 330.6L196.24 333.3M193.54 333.3L196.24 330.6" stroke="#e377c2" stroke-width="0.55" fill="none"/>
<path d="M27.66 298.77 L69.47 294.84 L111.27 292.22 L153.08 292.22 L194.89 292.22" stroke="#7a7a7a" stroke-width="1.05" fill="none" stroke-linecap="butt" stroke-linejoin="round"/>
</g>
<rect x="85.15" y="361.4" width="115.6" height="30.0" rx="1" fill="#fff" fill-opacity="0.88" stroke="#d8d8d8" stroke-width="0.5"/>
<path d="M86.65 365.3 L96.65 365.3" stroke="#c6dcef" stroke-width="1.35" fill="none" stroke-linecap="butt" stroke-linejoin="round"/>
<text x="100.85" y="367.05" font-size="5.5" textLength="9.61" lengthAdjust="spacingAndGlyphs">MLP</text>
<path d="M86.65 372.55 L96.65 372.55" stroke="#ff7f0e" stroke-width="1.5" fill="none" stroke-dasharray="1.3 2.6" stroke-linecap="butt" stroke-linejoin="round"/>
<text x="100.85" y="374.3" font-size="5.5" textLength="10.55" lengthAdjust="spacingAndGlyphs">GCN</text>
<path d="M86.65 379.8 L96.65 379.8" stroke="#2ca02c" stroke-width="1.2" fill="none" stroke-linecap="butt" stroke-linejoin="round"/>
<text x="100.85" y="381.55" font-size="5.5" textLength="44.18" lengthAdjust="spacingAndGlyphs">GCN + Label Input</text>
<path d="M86.65 387.05 L96.15 387.05" stroke="#d62728" stroke-width="1.3" fill="none" stroke-dasharray="5.8 1.45 1.0 1.45" stroke-linecap="butt" stroke-linejoin="round"/>
<text x="100.85" y="388.8" font-size="5.5" textLength="46.51" lengthAdjust="spacingAndGlyphs">GCN + Label Reuse</text>
<path d="M156.25 365.3 L166.25 365.3" stroke="#9a86d2" stroke-width="0.7" fill="none" stroke-dasharray="1.2 1.1" stroke-linecap="butt" stroke-linejoin="round"/>
<text x="170.45" y="367.05" font-size="5.5" textLength="8.76" lengthAdjust="spacingAndGlyphs">LPA</text>
<path d="M156.25 372.55 L166.25 372.55" stroke="#7e2020" stroke-width="0.8" fill="none" stroke-dasharray="2.0 0.8 0.8 0.8" stroke-linecap="butt" stroke-linejoin="round"/>
<circle cx="161.25" cy="372.55" r="1.05" fill="#5a0c0c"/>
<text x="170.45" y="374.3" font-size="5.5" textLength="10.04" lengthAdjust="spacingAndGlyphs">C&amp;S</text>
<path d="M156.25 379.8 L166.25 379.8" stroke="#e377c2" stroke-width="0.7" fill="none" stroke-dasharray="1.6 1.0" stroke-linecap="butt" stroke-linejoin="round"/>
<path d="M159.9 378.45L162.6 381.15M159.9 381.15L162.6 378.45" stroke="#e377c2" stroke-width="0.55" fill="none"/>
<text x="170.45" y="381.55" font-size="5.5" textLength="28.95" lengthAdjust="spacingAndGlyphs">Fast ResLPA</text>
<path d="M156.25 387.05 L166.25 387.05" stroke="#929292" stroke-width="1.5" fill="none" stroke-linecap="butt" stroke-linejoin="round"/>
<text x="170.45" y="388.8" font-size="5.5" textLength="21.03" lengthAdjust="spacingAndGlyphs">3ference</text>
<rect x="19.3" y="287.6" width="183.95" height="106.5" fill="none" stroke="#6a6a6a" stroke-width="0.8"/>
<line x1="27.66" y1="394.1" x2="27.66" y2="396" stroke="#6a6a6a" stroke-width="0.8"/>
<text x="27.66" y="400.95" font-size="5.5" text-anchor="middle" textLength="6.04" lengthAdjust="spacingAndGlyphs">10</text>
<line x1="69.47" y1="394.1" x2="69.47" y2="396" stroke="#6a6a6a" stroke-width="0.8"/>
<text x="69.47" y="400.95" font-size="5.5" text-anchor="middle" textLength="6.04" lengthAdjust="spacingAndGlyphs">20</text>
<line x1="111.27" y1="394.1" x2="111.27" y2="396" stroke="#6a6a6a" stroke-width="0.8"/>
<text x="111.27" y="400.95" font-size="5.5" text-anchor="middle" textLength="6.04" lengthAdjust="spacingAndGlyphs">30</text>
<line x1="153.08" y1="394.1" x2="153.08" y2="396" stroke="#6a6a6a" stroke-width="0.8"/>
<text x="153.08" y="400.95" font-size="5.5" text-anchor="middle" textLength="6.04" lengthAdjust="spacingAndGlyphs">40</text>
<line x1="194.89" y1="394.1" x2="194.89" y2="396" stroke="#6a6a6a" stroke-width="0.8"/>
<text x="194.89" y="400.95" font-size="5.5" text-anchor="middle" textLength="6.04" lengthAdjust="spacingAndGlyphs">50</text>
<line x1="17.4" y1="379.54" x2="19.3" y2="379.54" stroke="#6a6a6a" stroke-width="0.8"/>
<text x="16" y="381.29" font-size="5.5" text-anchor="end" textLength="6.04" lengthAdjust="spacingAndGlyphs">75</text>
<line x1="17.4" y1="357.71" x2="19.3" y2="357.71" stroke="#6a6a6a" stroke-width="0.8"/>
<text x="16" y="359.46" font-size="5.5" text-anchor="end" textLength="6.04" lengthAdjust="spacingAndGlyphs">80</text>
<line x1="17.4" y1="335.88" x2="19.3" y2="335.88" stroke="#6a6a6a" stroke-width="0.8"/>
<text x="16" y="337.63" font-size="5.5" text-anchor="end" textLength="6.04" lengthAdjust="spacingAndGlyphs">85</text>
<line x1="17.4" y1="314.05" x2="19.3" y2="314.05" stroke="#6a6a6a" stroke-width="0.8"/>
<text x="16" y="315.8" font-size="5.5" text-anchor="end" textLength="6.04" lengthAdjust="spacingAndGlyphs">90</text>
<line x1="17.4" y1="292.22" x2="19.3" y2="292.22" stroke="#6a6a6a" stroke-width="0.8"/>
<text x="16" y="293.97" font-size="5.5" text-anchor="end" textLength="6.04" lengthAdjust="spacingAndGlyphs">95</text>
<text x="110.87" y="408.5" font-size="5.5" text-anchor="middle" textLength="83.8" lengthAdjust="spacingAndGlyphs">Percentage <tspan font-style="italic">s</tspan> of Nodes for Training</text>
<text transform="translate(5.5 340.85) rotate(-90)" x="0" y="0" font-size="5.5" text-anchor="middle" textLength="31.5" lengthAdjust="spacingAndGlyphs">Accuracy (%)</text>
<text x="110.77" y="284.3" font-size="9.1" stroke="#000" stroke-width="0.15" text-anchor="middle" textLength="61.31" lengthAdjust="spacingAndGlyphs">Amazon Photo</text>
<clipPath id="c12"><rect x="225" y="287.6" width="183.95" height="106.5"/></clipPath>
<g clip-path="url(#c12)">
<path d="M233.36 324.44 L275.17 317.26 L316.98 315.2 L358.78 312.81 L400.59 311.1" stroke="#c6dcef" stroke-width="0.95" fill="none" stroke-linecap="butt" stroke-linejoin="round"/>
<path d="M233.36 294.68 L275.17 292.63 L316.98 292.46 L358.78 292.97 L400.59 292.63" stroke="#ff7f0e" stroke-width="1.5" fill="none" stroke-dasharray="1.3 2.6" stroke-linecap="butt" stroke-linejoin="round"/>
<path d="M233.36 298.28 L275.17 296.05 L316.98 294.34 L358.78 293.83 L400.59 292.97" stroke="#2ca02c" stroke-width="1.1" fill="none" stroke-linecap="butt" stroke-linejoin="round"/>
<path d="M233.36 299.13 L275.17 296.39 L316.98 294.68 L358.78 294 L400.59 292.8" stroke="#d62728" stroke-width="1.2" fill="none" stroke-dasharray="5.8 1.45 1.0 1.45" stroke-linecap="butt" stroke-linejoin="round"/>
<path d="M233.36 314.52 L275.17 308.36 L316.98 305.29 L358.78 303.92 L400.59 302.89" stroke="#9a86d2" stroke-width="0.7" fill="none" stroke-dasharray="1.2 1.1" stroke-linecap="butt" stroke-linejoin="round"/>
<path d="M233.36 331.96 L275.17 324.1 L316.98 321.7 L358.78 320.33 L400.59 319.65" stroke="#7f3c32" stroke-width="0.6" fill="none" stroke-dasharray="1.5 0.9 0.5 0.9" stroke-linecap="butt" stroke-linejoin="round"/>
<circle cx="233.36" cy="331.96" r="0.9" fill="#7f3c32"/>
<circle cx="275.17" cy="324.1" r="0.9" fill="#7f3c32"/>
<circle cx="316.98" cy="321.7" r="0.9" fill="#7f3c32"/>
<circle cx="358.78" cy="320.33" r="0.9" fill="#7f3c32"/>
<circle cx="400.59" cy="319.65" r="0.9" fill="#7f3c32"/>
<path d="M233.36 389.42 L275.17 376.42 L316.98 359.66 L358.78 354.53 L400.59 340.17" stroke="#e377c2" stroke-width="0.6" fill="none" stroke-dasharray="1.6 1.0" stroke-linecap="butt" stroke-linejoin="round"/>
<path d="M232.01 388.07L234.71 390.77M232.01 390.77L234.71 388.07" stroke="#e377c2" stroke-width="0.55" fill="none"/>
<path d="M273.82 375.07L276.52 377.77M273.82 377.77L276.52 375.07" stroke="#e377c2" stroke-width="0.55" fill="none"/>
<path d="M315.62 358.31L318.33 361.01M315.62 361.01L318.33 358.31" stroke="#e377c2" stroke-width="0.55" fill="none"/>
<path d="M357.43 353.18L360.13 355.88M357.43 355.88L360.13 353.18" stroke="#e377c2" stroke-width="0.55" fill="none"/>
<path d="M399.24 338.82L401.94 341.52M399.24 341.52L401.94 338.82" stroke="#e377c2" stroke-width="0.55" fill="none"/>
<path d="M233.36 301.87 L275.17 296.39 L316.98 294.34 L358.78 294 L400.59 292.97" stroke="#7a7a7a" stroke-width="1.05" fill="none" stroke-linecap="butt" stroke-linejoin="round"/>
</g>
<rect x="290.85" y="361.4" width="115.6" height="30.0" rx="1" fill="#fff" fill-opacity="0.88" stroke="#d8d8d8" stroke-width="0.5"/>
<path d="M292.35 365.3 L302.35 365.3" stroke="#c6dcef" stroke-width="1.35" fill="none" stroke-linecap="butt" stroke-linejoin="round"/>
<text x="306.55" y="367.05" font-size="5.5" textLength="9.61" lengthAdjust="spacingAndGlyphs">MLP</text>
<path d="M292.35 372.55 L302.35 372.55" stroke="#ff7f0e" stroke-width="1.5" fill="none" stroke-dasharray="1.3 2.6" stroke-linecap="butt" stroke-linejoin="round"/>
<text x="306.55" y="374.3" font-size="5.5" textLength="10.55" lengthAdjust="spacingAndGlyphs">GCN</text>
<path d="M292.35 379.8 L302.35 379.8" stroke="#2ca02c" stroke-width="1.2" fill="none" stroke-linecap="butt" stroke-linejoin="round"/>
<text x="306.55" y="381.55" font-size="5.5" textLength="44.18" lengthAdjust="spacingAndGlyphs">GCN + Label Input</text>
<path d="M292.35 387.05 L301.85 387.05" stroke="#d62728" stroke-width="1.3" fill="none" stroke-dasharray="5.8 1.45 1.0 1.45" stroke-linecap="butt" stroke-linejoin="round"/>
<text x="306.55" y="388.8" font-size="5.5" textLength="46.51" lengthAdjust="spacingAndGlyphs">GCN + Label Reuse</text>
<path d="M361.95 365.3 L371.95 365.3" stroke="#9a86d2" stroke-width="0.7" fill="none" stroke-dasharray="1.2 1.1" stroke-linecap="butt" stroke-linejoin="round"/>
<text x="376.15" y="367.05" font-size="5.5" textLength="8.76" lengthAdjust="spacingAndGlyphs">LPA</text>
<path d="M361.95 372.55 L371.95 372.55" stroke="#7e2020" stroke-width="0.8" fill="none" stroke-dasharray="2.0 0.8 0.8 0.8" stroke-linecap="butt" stroke-linejoin="round"/>
<circle cx="366.95" cy="372.55" r="1.05" fill="#5a0c0c"/>
<text x="376.15" y="374.3" font-size="5.5" textLength="10.04" lengthAdjust="spacingAndGlyphs">C&amp;S</text>
<path d="M361.95 379.8 L371.95 379.8" stroke="#e377c2" stroke-width="0.7" fill="none" stroke-dasharray="1.6 1.0" stroke-linecap="butt" stroke-linejoin="round"/>
<path d="M365.6 378.45L368.3 381.15M365.6 381.15L368.3 378.45" stroke="#e377c2" stroke-width="0.55" fill="none"/>
<text x="376.15" y="381.55" font-size="5.5" textLength="28.95" lengthAdjust="spacingAndGlyphs">Fast ResLPA</text>
<path d="M361.95 387.05 L371.95 387.05" stroke="#929292" stroke-width="1.5" fill="none" stroke-linecap="butt" stroke-linejoin="round"/>
<text x="376.15" y="388.8" font-size="5.5" textLength="21.03" lengthAdjust="spacingAndGlyphs">3ference</text>
<rect x="225" y="287.6" width="183.95" height="106.5" fill="none" stroke="#6a6a6a" stroke-width="0.8"/>
<line x1="233.36" y1="394.1" x2="233.36" y2="396" stroke="#6a6a6a" stroke-width="0.8"/>
<text x="233.36" y="400.95" font-size="5.5" text-anchor="middle" textLength="6.04" lengthAdjust="spacingAndGlyphs">10</text>
<line x1="275.17" y1="394.1" x2="275.17" y2="396" stroke="#6a6a6a" stroke-width="0.8"/>
<text x="275.17" y="400.95" font-size="5.5" text-anchor="middle" textLength="6.04" lengthAdjust="spacingAndGlyphs">20</text>
<line x1="316.98" y1="394.1" x2="316.98" y2="396" stroke="#6a6a6a" stroke-width="0.8"/>
<text x="316.98" y="400.95" font-size="5.5" text-anchor="middle" textLength="6.04" lengthAdjust="spacingAndGlyphs">30</text>
<line x1="358.78" y1="394.1" x2="358.78" y2="396" stroke="#6a6a6a" stroke-width="0.8"/>
<text x="358.78" y="400.95" font-size="5.5" text-anchor="middle" textLength="6.04" lengthAdjust="spacingAndGlyphs">40</text>
<line x1="400.59" y1="394.1" x2="400.59" y2="396" stroke="#6a6a6a" stroke-width="0.8"/>
<text x="400.59" y="400.95" font-size="5.5" text-anchor="middle" textLength="6.04" lengthAdjust="spacingAndGlyphs">50</text>
<line x1="223.1" y1="379.5" x2="225" y2="379.5" stroke="#6a6a6a" stroke-width="0.8"/>
<text x="221.7" y="381.25" font-size="5.5" text-anchor="end" textLength="6.04" lengthAdjust="spacingAndGlyphs">65</text>
<line x1="223.1" y1="362.4" x2="225" y2="362.4" stroke="#6a6a6a" stroke-width="0.8"/>
<text x="221.7" y="364.15" font-size="5.5" text-anchor="end" textLength="6.04" lengthAdjust="spacingAndGlyphs">70</text>
<line x1="223.1" y1="345.3" x2="225" y2="345.3" stroke="#6a6a6a" stroke-width="0.8"/>
<text x="221.7" y="347.05" font-size="5.5" text-anchor="end" textLength="6.04" lengthAdjust="spacingAndGlyphs">75</text>
<line x1="223.1" y1="328.2" x2="225" y2="328.2" stroke="#6a6a6a" stroke-width="0.8"/>
<text x="221.7" y="329.95" font-size="5.5" text-anchor="end" textLength="6.04" lengthAdjust="spacingAndGlyphs">80</text>
<line x1="223.1" y1="311.1" x2="225" y2="311.1" stroke="#6a6a6a" stroke-width="0.8"/>
<text x="221.7" y="312.85" font-size="5.5" text-anchor="end" textLength="6.04" lengthAdjust="spacingAndGlyphs">85</text>
<line x1="223.1" y1="294" x2="225" y2="294" stroke="#6a6a6a" stroke-width="0.8"/>
<text x="221.7" y="295.75" font-size="5.5" text-anchor="end" textLength="6.04" lengthAdjust="spacingAndGlyphs">90</text>
<text x="316.58" y="408.5" font-size="5.5" text-anchor="middle" textLength="83.8" lengthAdjust="spacingAndGlyphs">Percentage <tspan font-style="italic">s</tspan> of Nodes for Training</text>
<text transform="translate(211.2 340.85) rotate(-90)" x="0" y="0" font-size="5.5" text-anchor="middle" textLength="31.5" lengthAdjust="spacingAndGlyphs">Accuracy (%)</text>
<text x="316.48" y="284.3" font-size="9.1" stroke="#000" stroke-width="0.15" text-anchor="middle" textLength="79.31" lengthAdjust="spacingAndGlyphs">Amazon Computer</text>
<clipPath id="c03"><rect x="19.3" y="425.3" width="183.95" height="106.5"/></clipPath>
<g clip-path="url(#c03)">
<path d="M27.66 450.02 L69.47 441.41 L111.27 436.62 L153.08 434.42 L194.89 432.79" stroke="#c6dcef" stroke-width="0.95" fill="none" stroke-linecap="butt" stroke-linejoin="round"/>
<path d="M27.66 465.82 L69.47 460.56 L111.27 457.68 L153.08 455.77 L194.89 454.14" stroke="#ff7f0e" stroke-width="1.5" fill="none" stroke-dasharray="1.3 2.6" stroke-linecap="butt" stroke-linejoin="round"/>
<path d="M27.66 470.13 L69.47 465.34 L111.27 463.43 L153.08 461.51 L194.89 459.6" stroke="#2ca02c" stroke-width="1.1" fill="none" stroke-linecap="butt" stroke-linejoin="round"/>
<path d="M27.66 470.13 L69.47 465.34 L111.27 463.43 L153.08 461.51 L194.89 459.6" stroke="#d62728" stroke-width="1.2" fill="none" stroke-dasharray="5.8 1.45 1.0 1.45" stroke-linecap="butt" stroke-linejoin="round"/>
<path d="M27.66 526.62 L69.47 503.64 L111.27 489.28 L153.08 482.58 L194.89 476.83" stroke="#9a86d2" stroke-width="0.7" fill="none" stroke-dasharray="1.2 1.1" stroke-linecap="butt" stroke-linejoin="round"/>
<path d="M27.66 476.83 L69.47 473.96 L111.27 472.05 L153.08 471.09 L194.89 470.13" stroke="#7f3c32" stroke-width="0.6" fill="none" stroke-dasharray="1.5 0.9 0.5 0.9" stroke-linecap="butt" stroke-linejoin="round"/>
<circle cx="27.66" cy="476.83" r="0.9" fill="#7f3c32"/>
<circle cx="69.47" cy="473.96" r="0.9" fill="#7f3c32"/>
<circle cx="111.27" cy="472.05" r="0.9" fill="#7f3c32"/>
<circle cx="153.08" cy="471.09" r="0.9" fill="#7f3c32"/>
<circle cx="194.89" cy="470.13" r="0.9" fill="#7f3c32"/>
<path d="M27.66 446.38 L69.47 437.58 L111.27 434.99 L153.08 432.6 L194.89 430.39" stroke="#e377c2" stroke-width="0.6" fill="none" stroke-dasharray="1.6 1.0" stroke-linecap="butt" stroke-linejoin="round"/>
<path d="M26.31 445.03L29.01 447.73M26.31 447.73L29.01 445.03" stroke="#e377c2" stroke-width="0.55" fill="none"/>
<path d="M68.12 436.23L70.82 438.93M68.12 438.93L70.82 436.23" stroke="#e377c2" stroke-width="0.55" fill="none"/>
<path d="M109.92 433.64L112.62 436.34M109.92 436.34L112.62 433.64" stroke="#e377c2" stroke-width="0.55" fill="none"/>
<path d="M151.73 431.25L154.43 433.95M151.73 433.95L154.43 431.25" stroke="#e377c2" stroke-width="0.55" fill="none"/>
<path d="M193.54 429.04L196.24 431.74M193.54 431.74L196.24 429.04" stroke="#e377c2" stroke-width="0.55" fill="none"/>
<path d="M27.66 450.98 L69.47 441.41 L111.27 436.62 L153.08 434.42 L194.89 432.79" stroke="#7a7a7a" stroke-width="1.05" fill="none" stroke-linecap="butt" stroke-linejoin="round"/>
</g>
<rect x="85.15" y="499.1" width="115.6" height="30.0" rx="1" fill="#fff" fill-opacity="0.88" stroke="#d8d8d8" stroke-width="0.5"/>
<path d="M86.65 503 L96.65 503" stroke="#c6dcef" stroke-width="1.35" fill="none" stroke-linecap="butt" stroke-linejoin="round"/>
<text x="100.85" y="504.75" font-size="5.5" textLength="9.61" lengthAdjust="spacingAndGlyphs">MLP</text>
<path d="M86.65 510.25 L96.65 510.25" stroke="#ff7f0e" stroke-width="1.5" fill="none" stroke-dasharray="1.3 2.6" stroke-linecap="butt" stroke-linejoin="round"/>
<text x="100.85" y="512" font-size="5.5" textLength="10.55" lengthAdjust="spacingAndGlyphs">GCN</text>
<path d="M86.65 517.5 L96.65 517.5" stroke="#2ca02c" stroke-width="1.2" fill="none" stroke-linecap="butt" stroke-linejoin="round"/>
<text x="100.85" y="519.25" font-size="5.5" textLength="44.18" lengthAdjust="spacingAndGlyphs">GCN + Label Input</text>
<path d="M86.65 524.75 L96.15 524.75" stroke="#d62728" stroke-width="1.3" fill="none" stroke-dasharray="5.8 1.45 1.0 1.45" stroke-linecap="butt" stroke-linejoin="round"/>
<text x="100.85" y="526.5" font-size="5.5" textLength="46.51" lengthAdjust="spacingAndGlyphs">GCN + Label Reuse</text>
<path d="M156.25 503 L166.25 503" stroke="#9a86d2" stroke-width="0.7" fill="none" stroke-dasharray="1.2 1.1" stroke-linecap="butt" stroke-linejoin="round"/>
<text x="170.45" y="504.75" font-size="5.5" textLength="8.76" lengthAdjust="spacingAndGlyphs">LPA</text>
<path d="M156.25 510.25 L166.25 510.25" stroke="#b48478" stroke-width="1.2" fill="none" stroke-dasharray="1.3 2.3" stroke-linecap="butt" stroke-linejoin="round"/>
<circle cx="161.25" cy="510.25" r="1.05" fill="#6e2e24"/>
<text x="170.45" y="512" font-size="5.5" textLength="10.04" lengthAdjust="spacingAndGlyphs">C&amp;S</text>
<path d="M156.25 517.5 L166.25 517.5" stroke="#e377c2" stroke-width="0.7" fill="none" stroke-dasharray="1.6 1.0" stroke-linecap="butt" stroke-linejoin="round"/>
<path d="M159.9 516.15L162.6 518.85M159.9 518.85L162.6 516.15" stroke="#e377c2" stroke-width="0.55" fill="none"/>
<text x="170.45" y="519.25" font-size="5.5" textLength="28.95" lengthAdjust="spacingAndGlyphs">Fast ResLPA</text>
<path d="M156.25 524.75 L166.25 524.75" stroke="#4a4a4a" stroke-width="0.8" fill="none" stroke-linecap="butt" stroke-linejoin="round"/>
<text x="170.45" y="526.5" font-size="5.5" textLength="21.03" lengthAdjust="spacingAndGlyphs">3ference</text>
<rect x="19.3" y="425.3" width="183.95" height="106.5" fill="none" stroke="#6a6a6a" stroke-width="0.8"/>
<line x1="27.66" y1="531.8" x2="27.66" y2="533.7" stroke="#6a6a6a" stroke-width="0.8"/>
<text x="27.66" y="538.65" font-size="5.5" text-anchor="middle" textLength="6.04" lengthAdjust="spacingAndGlyphs">10</text>
<line x1="69.47" y1="531.8" x2="69.47" y2="533.7" stroke="#6a6a6a" stroke-width="0.8"/>
<text x="69.47" y="538.65" font-size="5.5" text-anchor="middle" textLength="6.04" lengthAdjust="spacingAndGlyphs">20</text>
<line x1="111.27" y1="531.8" x2="111.27" y2="533.7" stroke="#6a6a6a" stroke-width="0.8"/>
<text x="111.27" y="538.65" font-size="5.5" text-anchor="middle" textLength="6.04" lengthAdjust="spacingAndGlyphs">30</text>
<line x1="153.08" y1="531.8" x2="153.08" y2="533.7" stroke="#6a6a6a" stroke-width="0.8"/>
<text x="153.08" y="538.65" font-size="5.5" text-anchor="middle" textLength="6.04" lengthAdjust="spacingAndGlyphs">40</text>
<line x1="194.89" y1="531.8" x2="194.89" y2="533.7" stroke="#6a6a6a" stroke-width="0.8"/>
<text x="194.89" y="538.65" font-size="5.5" text-anchor="middle" textLength="6.04" lengthAdjust="spacingAndGlyphs">50</text>
<line x1="17.4" y1="523.75" x2="19.3" y2="523.75" stroke="#6a6a6a" stroke-width="0.8"/>
<text x="16" y="525.5" font-size="5.5" text-anchor="end" textLength="6.04" lengthAdjust="spacingAndGlyphs">86</text>
<line x1="17.4" y1="504.6" x2="19.3" y2="504.6" stroke="#6a6a6a" stroke-width="0.8"/>
<text x="16" y="506.35" font-size="5.5" text-anchor="end" textLength="6.04" lengthAdjust="spacingAndGlyphs">88</text>
<line x1="17.4" y1="485.45" x2="19.3" y2="485.45" stroke="#6a6a6a" stroke-width="0.8"/>
<text x="16" y="487.2" font-size="5.5" text-anchor="end" textLength="6.04" lengthAdjust="spacingAndGlyphs">90</text>
<line x1="17.4" y1="466.3" x2="19.3" y2="466.3" stroke="#6a6a6a" stroke-width="0.8"/>
<text x="16" y="468.05" font-size="5.5" text-anchor="end" textLength="6.04" lengthAdjust="spacingAndGlyphs">92</text>
<line x1="17.4" y1="447.15" x2="19.3" y2="447.15" stroke="#6a6a6a" stroke-width="0.8"/>
<text x="16" y="448.9" font-size="5.5" text-anchor="end" textLength="6.04" lengthAdjust="spacingAndGlyphs">94</text>
<line x1="17.4" y1="428" x2="19.3" y2="428" stroke="#6a6a6a" stroke-width="0.8"/>
<text x="16" y="429.75" font-size="5.5" text-anchor="end" textLength="6.04" lengthAdjust="spacingAndGlyphs">96</text>
<text x="110.87" y="546.2" font-size="5.5" text-anchor="middle" textLength="83.8" lengthAdjust="spacingAndGlyphs">Percentage <tspan font-style="italic">s</tspan> of Nodes for Training</text>
<text transform="translate(5.5 478.55) rotate(-90)" x="0" y="0" font-size="5.5" text-anchor="middle" textLength="31.5" lengthAdjust="spacingAndGlyphs">Accuracy (%)</text>
<text x="110.77" y="422" font-size="9.1" stroke="#000" stroke-width="0.15" text-anchor="middle" textLength="53.18" lengthAdjust="spacingAndGlyphs">Coauthor CS</text>
<clipPath id="c13"><rect x="225" y="425.3" width="183.95" height="106.5"/></clipPath>
<g clip-path="url(#c13)">
<path d="M233.36 459.05 L275.17 450.37 L316.98 447.28 L358.78 445.16 L400.59 442.65" stroke="#c6dcef" stroke-width="0.95" fill="none" stroke-linecap="butt" stroke-linejoin="round"/>
<path d="M233.36 462.34 L275.17 458.48 L316.98 454.81 L358.78 452.69 L400.59 450.37" stroke="#ff7f0e" stroke-width="1.5" fill="none" stroke-dasharray="1.3 2.6" stroke-linecap="butt" stroke-linejoin="round"/>
<path d="M233.36 466.58 L275.17 463.88 L316.98 460.02 L358.78 456.74 L400.59 455.58" stroke="#2ca02c" stroke-width="1.1" fill="none" stroke-linecap="butt" stroke-linejoin="round"/>
<path d="M233.36 466.58 L275.17 463.88 L316.98 460.02 L358.78 456.74 L400.59 455.58" stroke="#d62728" stroke-width="1.2" fill="none" stroke-dasharray="5.8 1.45 1.0 1.45" stroke-linecap="butt" stroke-linejoin="round"/>
<path d="M233.36 526.6 L275.17 501.51 L316.98 485.88 L358.78 477 L400.59 469.28" stroke="#9a86d2" stroke-width="0.7" fill="none" stroke-dasharray="1.2 1.1" stroke-linecap="butt" stroke-linejoin="round"/>
<path d="M233.36 477.39 L275.17 473.53 L316.98 471.6 L358.78 469.67 L400.59 468.13" stroke="#7f3c32" stroke-width="0.6" fill="none" stroke-dasharray="1.5 0.9 0.5 0.9" stroke-linecap="butt" stroke-linejoin="round"/>
<circle cx="233.36" cy="477.39" r="0.9" fill="#7f3c32"/>
<circle cx="275.17" cy="473.53" r="0.9" fill="#7f3c32"/>
<circle cx="316.98" cy="471.6" r="0.9" fill="#7f3c32"/>
<circle cx="358.78" cy="469.67" r="0.9" fill="#7f3c32"/>
<circle cx="400.59" cy="468.13" r="0.9" fill="#7f3c32"/>
<path d="M233.36 450.37 L275.17 441.11 L316.98 437.82 L358.78 433.58 L400.59 429.72" stroke="#7a7a7a" stroke-width="1.05" fill="none" stroke-linecap="butt" stroke-linejoin="round"/>
</g>
<rect x="290.85" y="499.1" width="115.6" height="30.0" rx="1" fill="#fff" fill-opacity="0.88" stroke="#d8d8d8" stroke-width="0.5"/>
<path d="M292.35 503 L302.35 503" stroke="#c6dcef" stroke-width="1.35" fill="none" stroke-linecap="butt" stroke-linejoin="round"/>
<text x="306.55" y="504.75" font-size="5.5" textLength="9.61" lengthAdjust="spacingAndGlyphs">MLP</text>
<path d="M292.35 510.25 L302.35 510.25" stroke="#ff7f0e" stroke-width="1.5" fill="none" stroke-dasharray="1.3 2.6" stroke-linecap="butt" stroke-linejoin="round"/>
<text x="306.55" y="512" font-size="5.5" textLength="10.55" lengthAdjust="spacingAndGlyphs">GCN</text>
<path d="M292.35 517.5 L302.35 517.5" stroke="#2ca02c" stroke-width="1.2" fill="none" stroke-linecap="butt" stroke-linejoin="round"/>
<text x="306.55" y="519.25" font-size="5.5" textLength="44.18" lengthAdjust="spacingAndGlyphs">GCN + Label Input</text>
<path d="M292.35 524.75 L301.85 524.75" stroke="#d62728" stroke-width="1.3" fill="none" stroke-dasharray="5.8 1.45 1.0 1.45" stroke-linecap="butt" stroke-linejoin="round"/>
<text x="306.55" y="526.5" font-size="5.5" textLength="46.51" lengthAdjust="spacingAndGlyphs">GCN + Label Reuse</text>
<path d="M361.95 503 L371.95 503" stroke="#9a86d2" stroke-width="0.7" fill="none" stroke-dasharray="1.2 1.1" stroke-linecap="butt" stroke-linejoin="round"/>
<text x="376.15" y="504.75" font-size="5.5" textLength="8.76" lengthAdjust="spacingAndGlyphs">LPA</text>
<path d="M361.95 510.25 L371.95 510.25" stroke="#b48478" stroke-width="1.2" fill="none" stroke-dasharray="1.3 2.3" stroke-linecap="butt" stroke-linejoin="round"/>
<circle cx="366.95" cy="510.25" r="1.05" fill="#6e2e24"/>
<text x="376.15" y="512" font-size="5.5" textLength="10.04" lengthAdjust="spacingAndGlyphs">C&amp;S</text>
<path d="M361.95 517.5 L371.95 517.5" stroke="#e377c2" stroke-width="0.7" fill="none" stroke-dasharray="1.6 1.0" stroke-linecap="butt" stroke-linejoin="round"/>
<path d="M365.6 516.15L368.3 518.85M365.6 518.85L368.3 516.15" stroke="#e377c2" stroke-width="0.55" fill="none"/>
<text x="376.15" y="519.25" font-size="5.5" textLength="28.95" lengthAdjust="spacingAndGlyphs">Fast ResLPA</text>
<path d="M361.95 524.75 L371.95 524.75" stroke="#4a4a4a" stroke-width="0.8" fill="none" stroke-linecap="butt" stroke-linejoin="round"/>
<text x="376.15" y="526.5" font-size="5.5" textLength="21.03" lengthAdjust="spacingAndGlyphs">3ference</text>
<rect x="225" y="425.3" width="183.95" height="106.5" fill="none" stroke="#6a6a6a" stroke-width="0.8"/>
<line x1="233.36" y1="531.8" x2="233.36" y2="533.7" stroke="#6a6a6a" stroke-width="0.8"/>
<text x="233.36" y="538.65" font-size="5.5" text-anchor="middle" textLength="6.04" lengthAdjust="spacingAndGlyphs">10</text>
<line x1="275.17" y1="531.8" x2="275.17" y2="533.7" stroke="#6a6a6a" stroke-width="0.8"/>
<text x="275.17" y="538.65" font-size="5.5" text-anchor="middle" textLength="6.04" lengthAdjust="spacingAndGlyphs">20</text>
<line x1="316.98" y1="531.8" x2="316.98" y2="533.7" stroke="#6a6a6a" stroke-width="0.8"/>
<text x="316.98" y="538.65" font-size="5.5" text-anchor="middle" textLength="6.04" lengthAdjust="spacingAndGlyphs">30</text>
<line x1="358.78" y1="531.8" x2="358.78" y2="533.7" stroke="#6a6a6a" stroke-width="0.8"/>
<text x="358.78" y="538.65" font-size="5.5" text-anchor="middle" textLength="6.04" lengthAdjust="spacingAndGlyphs">40</text>
<line x1="400.59" y1="531.8" x2="400.59" y2="533.7" stroke="#6a6a6a" stroke-width="0.8"/>
<text x="400.59" y="538.65" font-size="5.5" text-anchor="middle" textLength="6.04" lengthAdjust="spacingAndGlyphs">50</text>
<line x1="223.1" y1="529.5" x2="225" y2="529.5" stroke="#6a6a6a" stroke-width="0.8"/>
<text x="221.7" y="531.25" font-size="5.5" text-anchor="end" textLength="6.04" lengthAdjust="spacingAndGlyphs">92</text>
<line x1="223.1" y1="510.2" x2="225" y2="510.2" stroke="#6a6a6a" stroke-width="0.8"/>
<text x="221.7" y="511.95" font-size="5.5" text-anchor="end" textLength="6.04" lengthAdjust="spacingAndGlyphs">93</text>
<line x1="223.1" y1="490.9" x2="225" y2="490.9" stroke="#6a6a6a" stroke-width="0.8"/>
<text x="221.7" y="492.65" font-size="5.5" text-anchor="end" textLength="6.04" lengthAdjust="spacingAndGlyphs">94</text>
<line x1="223.1" y1="471.6" x2="225" y2="471.6" stroke="#6a6a6a" stroke-width="0.8"/>
<text x="221.7" y="473.35" font-size="5.5" text-anchor="end" textLength="6.04" lengthAdjust="spacingAndGlyphs">95</text>
<line x1="223.1" y1="452.3" x2="225" y2="452.3" stroke="#6a6a6a" stroke-width="0.8"/>
<text x="221.7" y="454.05" font-size="5.5" text-anchor="end" textLength="6.04" lengthAdjust="spacingAndGlyphs">96</text>
<line x1="223.1" y1="433" x2="225" y2="433" stroke="#6a6a6a" stroke-width="0.8"/>
<text x="221.7" y="434.75" font-size="5.5" text-anchor="end" textLength="6.04" lengthAdjust="spacingAndGlyphs">97</text>
<text x="316.58" y="546.2" font-size="5.5" text-anchor="middle" textLength="83.8" lengthAdjust="spacingAndGlyphs">Percentage <tspan font-style="italic">s</tspan> of Nodes for Training</text>
<text transform="translate(211.2 478.55) rotate(-90)" x="0" y="0" font-size="5.5" text-anchor="middle" textLength="31.5" lengthAdjust="spacingAndGlyphs">Accuracy (%)</text>
<text x="316.48" y="422" font-size="9.1" stroke="#000" stroke-width="0.15" text-anchor="middle" textLength="73.3" lengthAdjust="spacingAndGlyphs">Coauthor Physics</text>
</svg>
</body></html>
